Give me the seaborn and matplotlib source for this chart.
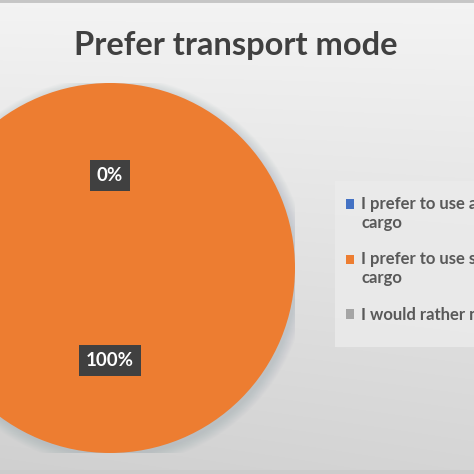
import numpy as np
import matplotlib
matplotlib.use('Agg')
import matplotlib.pyplot as plt
import seaborn as sns
from matplotlib.patches import Circle, Rectangle
from matplotlib.legend_handler import HandlerPatch

# ---- data ----
categories = ["I prefer to use air\ncargo", "I prefer to use sea\ncargo", "I would rather not say"]
values = [0, 100, 0]
title = "Prefer transport mode"
colors = ['#4472C4', '#ED7D31', '#A5A5A5']

sns.set_theme(style="white")
plt.rcParams['font.family'] = ['Lato', 'DejaVu Sans']

W = H = 474
fig = plt.figure(figsize=(W / 100, H / 100), dpi=100)

# background gradient
bg = fig.add_axes([0, 0, 1, 1], zorder=-10)
t = np.linspace(0, 1, H)[:, None]
xs = np.linspace(0, 1, W)[None, :]
img = 0.955 - 0.12 * t - 0.02 * (1 - xs) * t
img[:3, :] = 0.78
img[-4:, :] = 0.80
bg.imshow(np.dstack([img, img, img]), aspect='auto', extent=[0, 1, 0, 1], interpolation='bilinear')
bg.set_xlim(0, 1)
bg.set_ylim(0, 1)
bg.axis('off')
# legend background panel
bg.add_patch(Rectangle((335 / W, 1 - 347 / H), 1, (347 - 181) / H,
                       facecolor='#ebebeb', edgecolor='none', alpha=0.85, zorder=3))

# pie axes
R = 185
cx, cy = 110, 268
ax = fig.add_axes([(cx - R) / W, (H - cy - R) / H, 2 * R / W, 2 * R / H])

wedges, texts, autotexts = ax.pie(
    values, colors=colors, startangle=90, counterclock=False,
    autopct=lambda p: f'{p:.0f}%', pctdistance=0.5, radius=1,
    wedgeprops=dict(linewidth=0),
)
ax.set_xlim(-1, 1)
ax.set_ylim(-1, 1)
ax.set_aspect('equal')
ax.axis('off')

# soft shadow
for i in range(10):
    ax.add_patch(Circle((0.012, -0.018), 1.0 + 0.006 * i, color='#8a9aa8', alpha=0.035, lw=0, zorder=0))
for w in wedges:
    w.set_zorder(2)
for at in autotexts:
    at.set_color('white')
    at.set_fontweight('bold')
    at.set_fontsize(13.5)
    at.set_zorder(5)
    at.set_bbox(dict(boxstyle='square,pad=0.38', fc='#404040', ec='none'))

fig.text(236 / W, 1 - 45 / H, title, ha='center', va='center',
         fontsize=23.5, fontweight='bold', color='#404040')

# legend handles aligned with first line of each label
nlines = {id(w): lab.count('\n') + 1 for w, lab in zip(wedges, categories)}
FS = 12


def make_patch(legend, orig_handle, xdescent, ydescent, width, height, fontsize):
    n = nlines.get(id(orig_handle), 1)
    shift = (n - 1) * fontsize * 1.2 / 2
    return Rectangle((-xdescent, -ydescent + shift), width, height)


leg = fig.legend(wedges, categories, loc='upper left',
                 bbox_to_anchor=(346 / W, 1 - 196 / H), borderaxespad=0,
                 frameon=False,
                 prop={'weight': 'bold', 'size': FS}, labelcolor='#595959',
                 handlelength=0.5, handleheight=0.5, handletextpad=0.4,
                 labelspacing=1.25, borderpad=0,
                 handler_map={w: HandlerPatch(patch_func=make_patch) for w in wedges})

fig.savefig('out.png', dpi=100)
